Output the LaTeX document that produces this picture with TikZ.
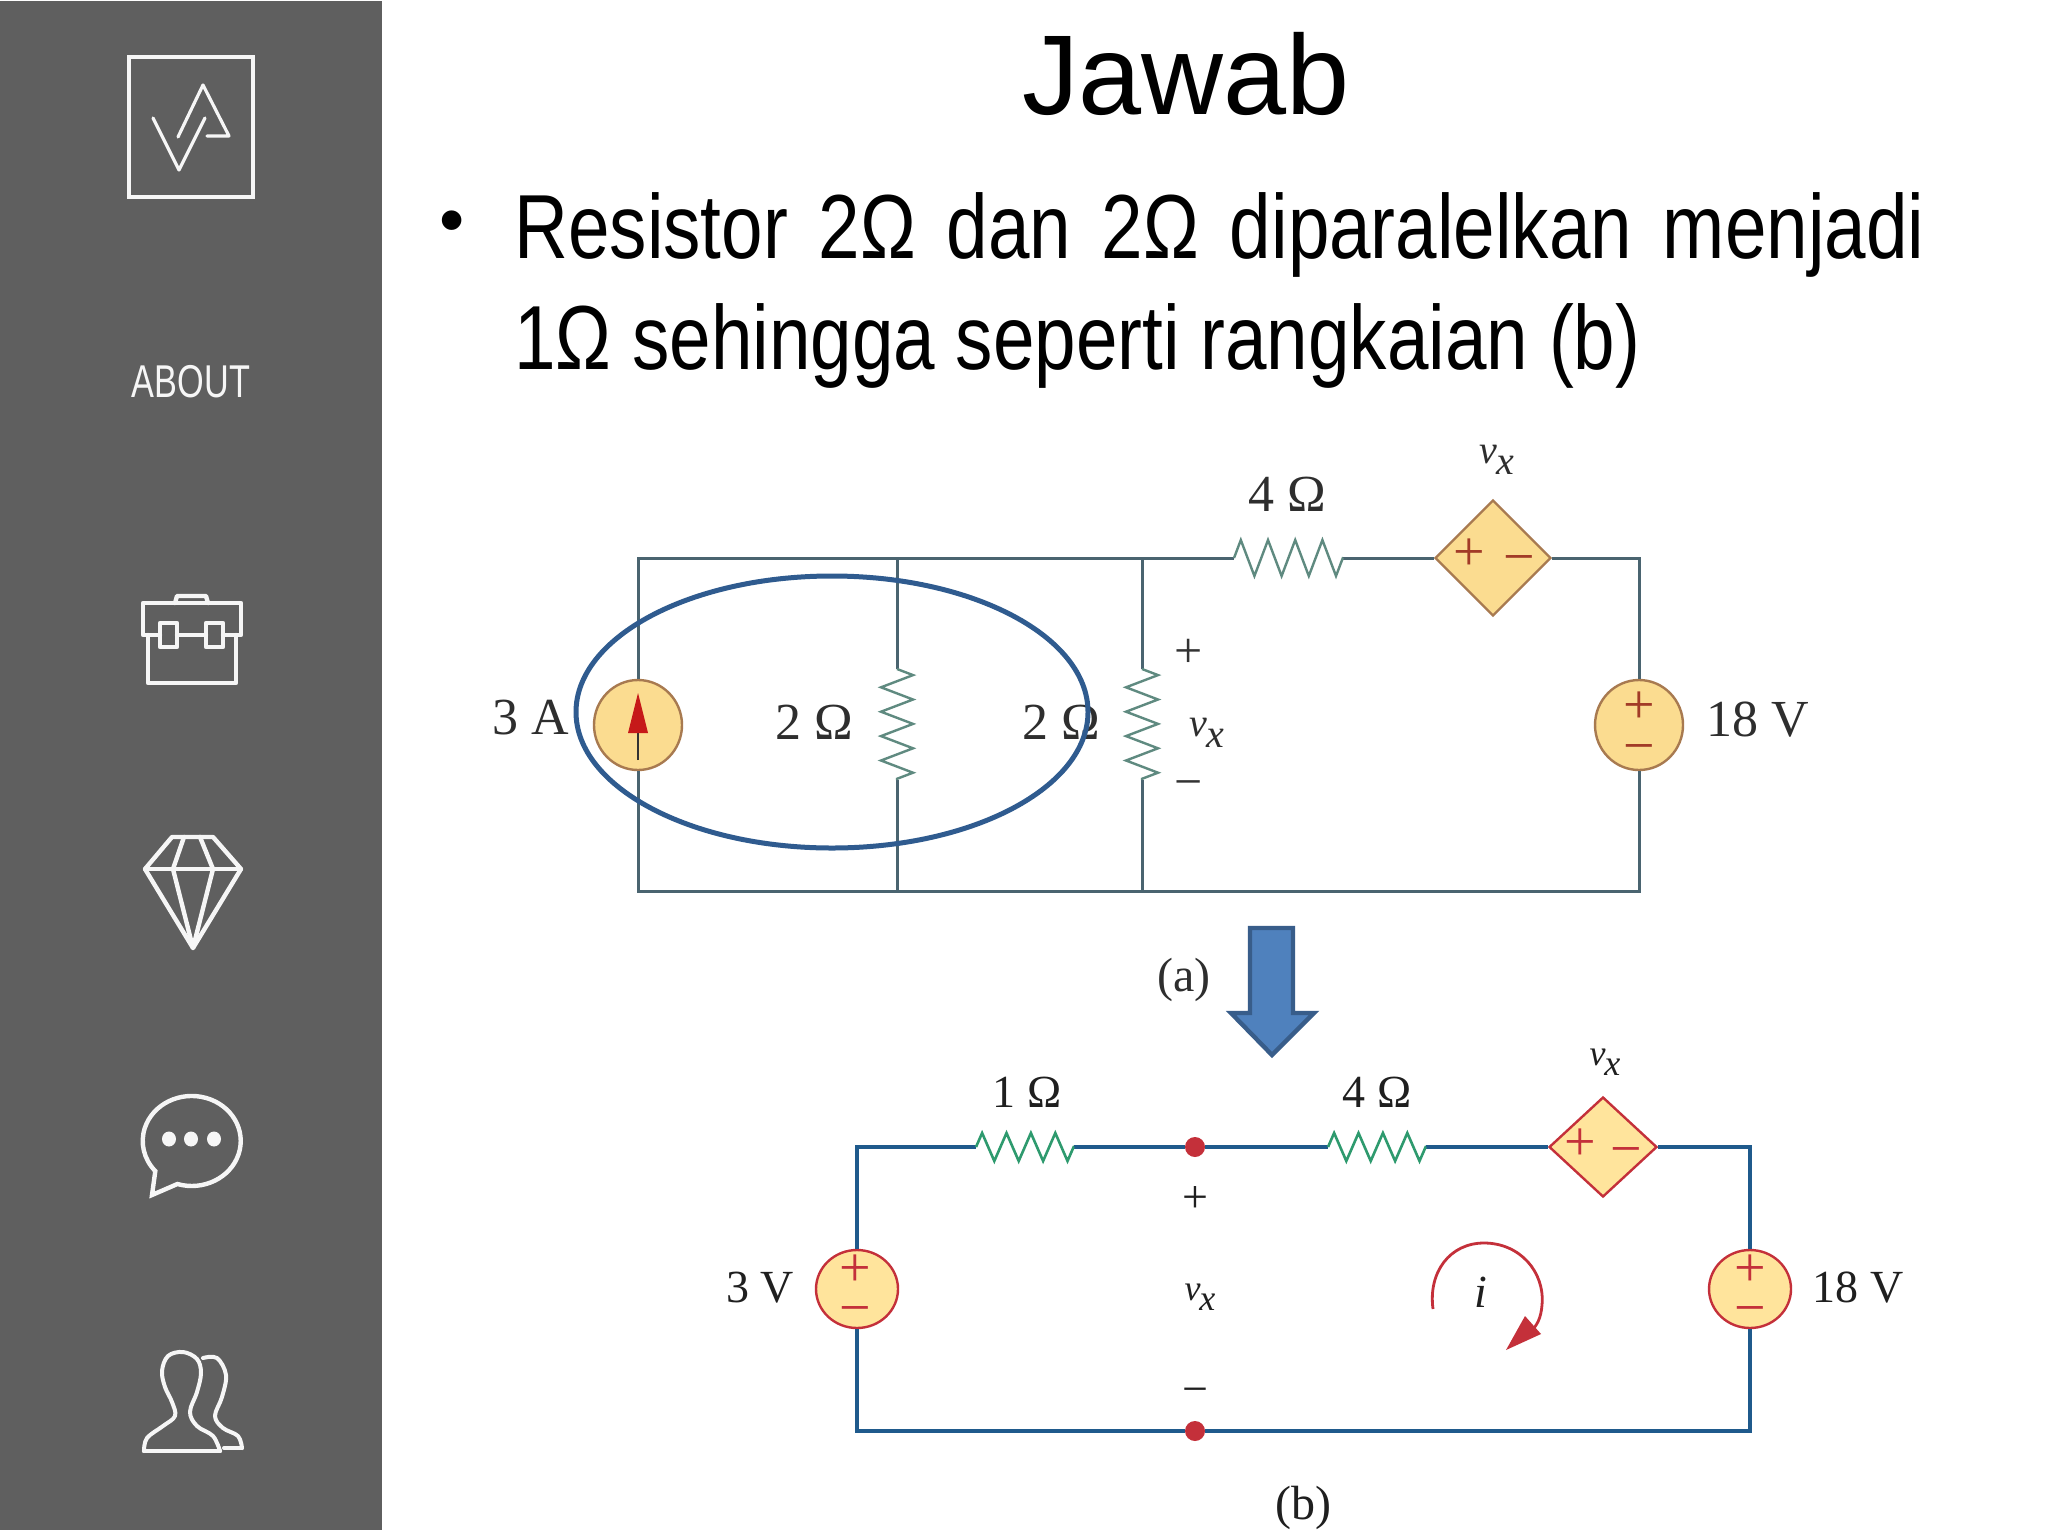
\documentclass[tikz,border=0pt]{standalone}
\usepackage{fontspec}
\usetikzlibrary{shapes.geometric,decorations.pathmorphing}
\setmainfont{Liberation Serif}
\newfontfamily\headfont{Liberation Sans}
\newfontfamily\bodyfont[FakeStretch=0.82]{Liberation Sans}
\newfontfamily\sidefont[FakeStretch=0.745]{Liberation Sans}
\newcommand{\myvx}{\textit{v}\kern-0.03em\raisebox{-0.28em}{\textit{x}}}
\definecolor{panel}{HTML}{5F5F5F}
\definecolor{icon}{HTML}{F6F6F6}
\definecolor{wireA}{HTML}{4A6470}
\definecolor{wireB}{HTML}{1F5A8C}
\definecolor{resA}{HTML}{5F8A80}
\definecolor{resB}{HTML}{2E9A6E}
\definecolor{srcfillA}{HTML}{FBDC90}
\definecolor{srcfillB}{HTML}{FFE49C}
\definecolor{srcA}{HTML}{A87A50}
\definecolor{redB}{HTML}{C4303A}
\definecolor{ringblue}{HTML}{2F5B8F}
\definecolor{arrowfill}{HTML}{4F81BD}
\definecolor{arrowline}{HTML}{385D8A}
\tikzset{
 iconline/.style={draw=icon,line width=2.2pt,line join=round,line cap=round},
 wa/.style={draw=wireA,line width=1.5pt,line join=miter},
 wb/.style={draw=wireB,line width=1.6pt,line join=miter},
 rza/.style={draw=resA,line width=1.2pt,decorate,decoration={zigzag,segment length=13.6pt,amplitude=9pt}},
 rzb/.style={draw=resB,line width=1.3pt,decorate,decoration={zigzag,segment length=12.2pt,amplitude=7pt}},
 vza/.style={draw=resA,line width=1.2pt,decorate,decoration={zigzag,segment length=12.2pt,amplitude=8pt}},
 sourceA/.style={ellipse,draw=srcA,fill=srcfillA,line width=1.2pt,inner sep=0pt,minimum width=44pt,minimum height=45pt},
 sourceB/.style={ellipse,draw=redB,fill=srcfillB,line width=1.2pt,inner sep=0pt,minimum width=41pt,minimum height=39pt},
 diaA/.style={diamond,draw=srcA,fill=srcfillA,line width=1.2pt,inner sep=0pt,minimum width=58pt,minimum height=58pt},
 diaB/.style={diamond,draw=redB,fill=srcfillB,line width=1.2pt,inner sep=0pt,minimum width=54pt,minimum height=50pt},
 laba/.style={inner sep=0pt,text=black!82,font=\fontsize{26}{30}\selectfont},
 labb/.style={inner sep=0pt,text=black!88,font=\fontsize{23}{27}\selectfont},
 syma/.style={inner sep=0pt,text=black!80,font=\fontsize{25}{27}\selectfont},
 signa/.style={inner sep=0pt,text=srcA!60!red!80!black,font=\fontsize{28}{30}\selectfont},
 signb/.style={inner sep=0pt,text=redB,font=\fontsize{28}{30}\selectfont},
 dotb/.style={circle,fill=redB,inner sep=0pt,minimum size=10pt},
 tx/.style={inner sep=0pt,anchor=base west}
}
\begin{document}
\begin{tikzpicture}[x=0.5pt,y=-0.5pt]
\useasboundingbox (0,0) rectangle (2048,1536);
\fill[white] (0,0) rectangle (2048,1536);
% side panel
\fill[panel] (0,1) rectangle (382,1530);
% logo icon
\draw[iconline,line cap=butt,line join=miter] (129,57) rectangle (253,197);
\draw[iconline,line width=1.6pt] (153,118) -- (179,170) -- (205,118);
\draw[iconline,line width=1.6pt] (178,137) -- (203,85) -- (229,136) -- (207,136);
\node[inner sep=0pt,text=icon,font=\sidefont\fontsize{23}{26}\selectfont] (about) at (191,382) {ABOUT};
% toolbox
\draw[iconline] (160,635) -- (143,635) -- (143,603) -- (241,603) -- (241,635) -- (223,635);
\draw[iconline] (148,635) -- (148,683) -- (236,683) -- (236,635);
\draw[iconline] (175,603) -- (177,596) -- (206,596) -- (208,603);
\draw[iconline] (160,623) rectangle (177,647);
\draw[iconline] (206,623) rectangle (223,647);
\draw[iconline] (177,635) -- (206,635);
% gem
\draw[iconline] (172,837) -- (213,837) -- (241,869) -- (193,948) -- (145,869) -- cycle;
\draw[iconline] (145,869) -- (241,869);
\draw[iconline] (184,837) -- (173,869) -- (193,948) -- (213,869) -- (200,837);
% bubble
\draw[iconline,line join=miter] (177.4,1184) arc[start angle=107,end angle=-222,x radius=49,y radius=45] -- (152,1195) -- cycle;
\fill[icon] (169,1139) ellipse[x radius=7,y radius=7.5];
\fill[icon] (191,1139) ellipse[x radius=7,y radius=7.5];
\fill[icon] (214,1139) ellipse[x radius=7,y radius=7.5];
% people
\draw[iconline] (144,1451) -- (220,1451);
\draw[iconline,line width=2pt] plot[smooth,tension=0.6] coordinates {(144,1451) (147,1438) (163,1426) (175,1416) (172,1402) (165,1387) (162,1371) (168,1356) (183,1352) (197,1359) (201,1373) (197,1392) (190,1412) (197,1426) (213,1436) (220,1451)};
\draw[iconline,line width=2pt] plot[smooth,tension=0.6] coordinates {(203,1358) (217,1358) (226,1375) (222,1397) (215,1416) (223,1428) (238,1436) (242,1448)};
\draw[iconline,line width=2pt] (242,1448) -- (224,1448);
% title and text
\node[inner sep=0pt,font=\headfont\fontsize{56.7}{60}\selectfont] (title) at (1186,74) {Jawab};
\node[inner sep=0pt,font=\headfont\fontsize{36}{40}\selectfont] (bullet) at (452,228) {•};
\node[tx,font=\bodyfont\fontsize{45.5}{50}\selectfont] (line1) at (514,258) {\makebox[705pt][s]{Resistor 2Ω dan 2Ω diparalelkan menjadi}};
\node[tx,font=\bodyfont\fontsize{45.5}{50}\selectfont] (line2) at (514,369) {1Ω sehingga seperti rangkaian (b)};
% circuit (a)
\coordinate (atl) at (638,558);
\coordinate (abl) at (638,891);
\coordinate (atr) at (1639,558);
\coordinate (abr) at (1639,891);
\coordinate (am2t) at (897,558);
\coordinate (am2b) at (897,891);
\coordinate (am3t) at (1142,558);
\coordinate (am3b) at (1142,891);
\coordinate (r1t) at (897,669);
\coordinate (r1b) at (897,780);
\coordinate (r2t) at (1142,669);
\coordinate (r2b) at (1142,780);
\coordinate (r3l) at (1234,558);
\coordinate (r3r) at (1343,558);
\node[sourceA] (sa) at (638,725) {};
\node[sourceA] (sb) at (1639,725) {};
\node[diaA] (da) at (1493,558) {};
\draw[wa] (sa.north) -- (atl) -- (r3l);
\draw[wa] (r3r) -- (da.west);
\draw[wa] (da.east) -- (atr) -- (sb.north);
\draw[wa] (sb.south) -- (abr) -- (abl) -- (sa.south);
\draw[wa] (am2t) -- (r1t);
\draw[wa] (r1b) -- (am2b);
\draw[wa] (am3t) -- (r2t);
\draw[wa] (r2b) -- (am3b);
\draw[vza] (r1t) -- (r1b);
\draw[vza] (r2t) -- (r2b);
\draw[rza] (r3l) -- (r3r);
% current source arrow
\coordinate (ast) at (638,760);
\coordinate (atp) at (638,693);
\draw[black!80,line width=1.2pt] (ast) -- (638,725);
\fill[red!75!black!90] (atp) -- (648,733) -- (628,733) -- cycle;
\node[laba] (l3a) at (531,718) {3 A};
\node[laba] (l2a) at (814,722) {2 Ω};
\node[laba] (l2b) at (1061,722) {2 Ω};
\node[laba] (l4a) at (1287,494) {4 Ω};
\node[laba] (l18a) at (1758,720) {18 V};
\node[laba,font=\fontsize{20}{24}\selectfont] (lva) at (1497,460) {\myvx};
\node[laba,font=\fontsize{20}{24}\selectfont] (lvb) at (1207,733) {\myvx};
\node[syma] (pa) at (1189,653) {+};
\node[syma] (ma) at (1189,790) {−};
\node[signa] at (1469,555) (dpa) {+};
\node[signa] at (1519,565) (dma) {−};
\node[signa] at (1639,708) (spa) {+};
\node[signa] at (1639,754) (sma) {−};
\node[laba,font=\fontsize{24}{28}\selectfont] (capa) at (1184,980) {(a)};
% highlight ellipse
\node[ellipse,draw=ringblue,line width=2.5pt,inner sep=0pt,minimum width=256pt,minimum height=136pt] (ring) at (832,712) {};
% big arrow
\draw[fill=arrowfill,draw=arrowline,line width=2.2pt,line join=miter] (1250,928) -- (1293,928) -- (1293,1013) -- (1314,1013) -- (1272,1055) -- (1231,1013) -- (1250,1013) -- cycle;
% circuit (b)
\coordinate (btl) at (857,1147);
\coordinate (bbl) at (857,1431);
\coordinate (btr) at (1750,1147);
\coordinate (bbr) at (1750,1431);
\coordinate (q1l) at (976,1147);
\coordinate (q1r) at (1074,1147);
\coordinate (q2l) at (1328,1147);
\coordinate (q2r) at (1426,1147);
\node[sourceB] (s3) at (857,1289) {};
\node[sourceB] (s18) at (1750,1289) {};
\node[diaB] (db) at (1603,1147) {};
\node[dotb] (nt) at (1195,1147) {};
\node[dotb] (nb) at (1195,1431) {};
\draw[wb] (s3.north) -- (btl) -- (q1l);
\draw[wb] (q1r) -- (nt) -- (q2l);
\draw[wb] (q2r) -- (db.west);
\draw[wb] (db.east) -- (btr) -- (s18.north);
\draw[wb] (s18.south) -- (bbr) -- (nb) -- (bbl) -- (s3.south);
\draw[rzb] (q1l) -- (q1r);
\draw[rzb] (q2l) -- (q2r);
\node[labb] (l1b) at (1027,1092) {1 Ω};
\node[labb] (l4b) at (1377,1092) {4 Ω};
\node[labb] (l3b) at (760,1288) {3 V};
\node[labb] (l18b) at (1858,1288) {18 V};
\node[labb,font=\fontsize{18}{22}\selectfont] (lvc) at (1605,1062) {\myvx};
\node[labb,font=\fontsize{18}{22}\selectfont] (lvd) at (1200,1297) {\myvx};
\node[labb] (pb) at (1195,1199) {+};
\node[labb] (mb) at (1195,1396) {−};
\node[signb] (dpb) at (1580,1145) {+};
\node[signb] (dmb) at (1626,1157) {−};
\node[signb] (p3) at (855,1271) {+};
\node[signb] (m3) at (855,1316) {−};
\node[signb] (p18) at (1750,1271) {+};
\node[signb] (m18) at (1750,1316) {−};
\node[labb,font=\itshape\fontsize{23}{27}\selectfont] (li) at (1481,1292) {i};
\node[labb,font=\fontsize{24}{28}\selectfont] (capb) at (1303,1508) {(b)};
% loop arrow
\draw[draw=redB,line width=1.4pt] (1433,1309) .. controls (1428,1272) and (1450,1243) .. (1484,1243) .. controls (1520,1243) and (1545,1272) .. (1542,1305) .. controls (1541,1318) and (1537,1326) .. (1530,1332);
\fill[redB] (1506,1350) -- (1525,1316) -- (1541,1334) -- cycle;
\end{tikzpicture}
\end{document}
